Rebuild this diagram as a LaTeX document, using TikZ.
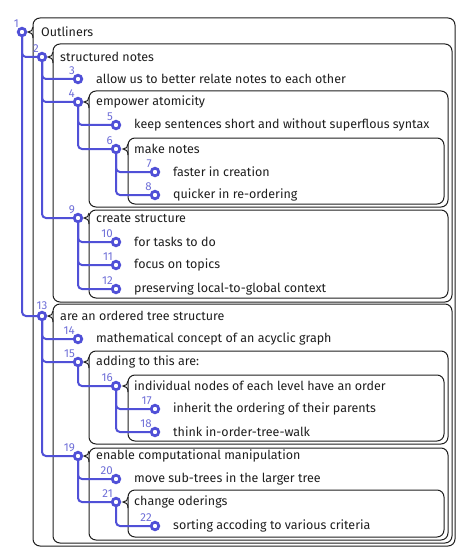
\documentclass[tikz,border=0pt]{standalone}
\usepackage{fontspec}
\setmainfont{Fira Sans}
\pgfdeclarelayer{boxes}
\pgfdeclarelayer{lines}
\pgfsetlayers{boxes,lines,main}
\definecolor{treeblue}{RGB}{80,80,215}
\definecolor{numblue}{RGB}{110,110,215}
\definecolor{ink}{RGB}{30,30,30}
\tikzset{
  dot/.style={circle, draw=treeblue, fill=white, line width=2.7pt, minimum size=7.6pt, inner sep=0pt},
  tree/.style={draw=treeblue, line width=2pt, rounded corners=4pt},
  item/.style={anchor=west, text=ink, font=\fontsize{12.5}{14}\selectfont, inner sep=0pt},
  num/.style={anchor=south east, text=numblue, font=\fontsize{11.5}{13}\selectfont, inner sep=0pt},
  boxline/.style={draw=ink, line width=1pt, rounded corners=7pt},
  tailline/.style={draw=ink, line width=1pt},
}
\newcommand\olbox[5]{%
  \draw[boxline] (#1,#2) rectangle (#3,#4);
  \draw[tailline] (#1,#5-5) .. controls (#1,#5-2) and (#1-2,#5) .. (#1-5,#5)
     .. controls (#1-2,#5) and (#1,#5+2) .. (#1,#5+6);
}
\begin{document}
\begin{tikzpicture}[x=1pt,y=-1pt]
\useasboundingbox (0,0) rectangle (474,559);
% boxes
\begin{pgfonlayer}{boxes}
\olbox{33}{18}{455}{546}{32}
\olbox{53}{44}{452}{302}{57}
\olbox{89}{91}{448}{207}{102}
\olbox{128}{138}{444}{204}{149}
\olbox{89}{210}{448}{298}{218}
\olbox{53}{304}{452}{543}{316}
\olbox{89}{351}{448}{444}{362}
\olbox{128}{375}{444}{441}{386}
\olbox{89}{448}{448}{540}{456}
\olbox{128}{490}{444}{537}{502}
\end{pgfonlayer}
% circles
\node[dot] (n1) at (22,32) {};
\node[dot] (n2) at (42,57) {};
\node[dot] (n3) at (78,79) {};
\node[dot] (n4) at (78,102) {};
\node[dot] (n5) at (116,125) {};
\node[dot] (n6) at (116,149) {};
\node[dot] (n7) at (155,172) {};
\node[dot] (n8) at (155,195) {};
\node[dot] (n9) at (78,218) {};
\node[dot] (n10) at (116,242) {};
\node[dot] (n11) at (116,265) {};
\node[dot] (n12) at (116,289) {};
\node[dot] (n13) at (42,316) {};
\node[dot] (n14) at (78,339) {};
\node[dot] (n15) at (78,362) {};
\node[dot] (n16) at (116,386) {};
\node[dot] (n17) at (155,409) {};
\node[dot] (n18) at (155,432) {};
\node[dot] (n19) at (78,456) {};
\node[dot] (n20) at (116,479) {};
\node[dot] (n21) at (116,502) {};
\node[dot] (n22) at (155,526) {};
% number labels
\foreach \i in {1,2,3,4,5,6,7,8,9,10,11,12,14,15,16,17,18,19,20,21,22}{
  \node[num] (l\i) at ([shift={(-3,-4)}]n\i.center) {\i};
}
\node[num, anchor=south] (l13) at ([shift={(0,-6)}]n13.center) {13};
% texts
\node[item] (t1) at ([xshift=19]n1.center) {Outliners};
\node[item] (t2) at ([xshift=18]n2.center) {structured notes};
\node[item] (t3) at ([xshift=18]n3.center) {allow us to better relate notes to each other};
\node[item] (t4) at ([xshift=18]n4.center) {empower atomicity};
\node[item] (t5) at ([xshift=18]n5.center) {keep sentences short and without superflous syntax};
\node[item] (t6) at ([xshift=18]n6.center) {make notes};
\node[item] (t7) at ([xshift=18]n7.center) {faster in creation};
\node[item] (t8) at ([xshift=18]n8.center) {quicker in re-ordering};
\node[item] (t9) at ([xshift=18]n9.center) {create structure};
\node[item] (t10) at ([xshift=18]n10.center) {for tasks to do};
\node[item] (t11) at ([xshift=18]n11.center) {focus on topics};
\node[item] (t12) at ([xshift=18]n12.center) {preserving local-to-global context};
\node[item] (t13) at ([xshift=18]n13.center) {are an ordered tree structure};
\node[item] (t14) at ([xshift=18]n14.center) {mathematical concept of an acyclic graph};
\node[item] (t15) at ([xshift=18]n15.center) {adding to this are:};
\node[item] (t16) at ([xshift=18]n16.center) {individual nodes of each level have an order};
\node[item] (t17) at ([xshift=18]n17.center) {inherit the ordering of their parents};
\node[item] (t18) at ([xshift=18]n18.center) {think in-order-tree-walk};
\node[item] (t19) at ([xshift=18]n19.center) {enable computational manipulation};
\node[item] (t20) at ([xshift=18]n20.center) {move sub-trees in the larger tree};
\node[item] (t21) at ([xshift=18]n21.center) {change oderings};
\node[item] (t22) at ([xshift=18]n22.center) {sorting accoding to various criteria};
% tree connectors
\begin{pgfonlayer}{lines}
\foreach \p/\c in {1/2,1/13,2/3,2/4,2/9,4/5,4/6,6/7,6/8,9/10,9/11,9/12,13/14,13/15,13/19,15/16,16/17,16/18,19/20,19/21,21/22}{
  \draw[tree] (n\p) |- (n\c);
}
\end{pgfonlayer}
\end{tikzpicture}
\end{document}
